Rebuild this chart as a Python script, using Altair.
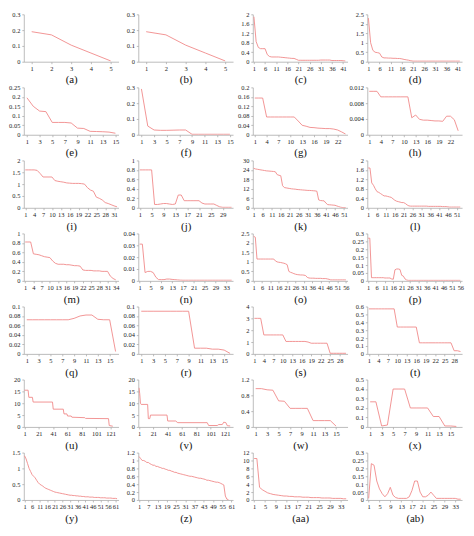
import altair as alt
import pandas as pd

FONT = "Liberation Serif"
LINE = "#f08888"

# ---------------- data ----------------
a_y = [0.19, 0.17, 0.105, 0.055, 0.005]
b_y = [0.19, 0.17, 0.105, 0.055, 0.005]
c_y = [1.9, 0.85, 0.6, 0.55, 0.55, 0.55, 0.3, 0.22, 0.2, 0.2, 0.2, 0.2, 0.19, 0.18, 0.17, 0.16, 0.15, 0.14, 0.14, 0.1,
       0.06, 0.06, 0.06, 0.06, 0.06, 0.06, 0.06, 0.06, 0.06, 0.06, 0.07, 0.07, 0.07, 0.07, 0.07, 0.05, 0.05, 0.05, 0.05,
       0.05, 0.04, 0.03]
d_y = [2.3, 1.0, 0.6, 0.5, 0.48, 0.45, 0.25, 0.2, 0.2, 0.19, 0.19, 0.18, 0.18, 0.17, 0.17, 0.15, 0.12, 0.1, 0.08, 0.05,
       0.03, 0.03, 0.03, 0.03, 0.03, 0.03, 0.03, 0.03, 0.03, 0.03, 0.03, 0.03, 0.03, 0.03, 0.03, 0.03, 0.03, 0.03, 0.03,
       0.03, 0.03, 0.03]
e_y = [0.195, 0.15, 0.125, 0.122, 0.065, 0.065, 0.065, 0.062, 0.035, 0.033, 0.018, 0.017, 0.016, 0.014, 0.008]
f_y = [0.29, 0.055, 0.03, 0.028, 0.028, 0.029, 0.03, 0.03, 0.003, 0.003, 0.003, 0.003, 0.003, 0.003, 0.003]
g_y = [0.155, 0.155, 0.155, 0.075, 0.075, 0.075, 0.075, 0.075, 0.075, 0.075, 0.075, 0.058, 0.04, 0.036, 0.031, 0.03,
       0.028, 0.027, 0.026, 0.026, 0.024, 0.02, 0.012, 0.003]
h_y = [0.011, 0.011, 0.011, 0.0096, 0.0096, 0.0096, 0.0096, 0.0096, 0.0096, 0.0096, 0.0096, 0.0043, 0.005, 0.0039,
       0.0037, 0.0037, 0.0036, 0.0035, 0.0035, 0.0034, 0.0047, 0.0047, 0.0038, 0.001]
i_y = [1.6, 1.6, 1.6, 1.6, 1.58, 1.45, 1.3, 1.3, 1.3, 1.3, 1.15, 1.12, 1.1, 1.08, 1.05, 1.04, 1.03, 1.03, 1.03, 1.02,
       1.0, 0.85, 0.75, 0.7, 0.45, 0.4, 0.33, 0.22, 0.18, 0.13, 0.08, 0.04]
j_y = [0.8, 0.8, 0.8, 0.8, 0.8, 0.07, 0.07, 0.08, 0.09, 0.09, 0.08, 0.07, 0.08, 0.27, 0.27, 0.15, 0.15, 0.15, 0.15,
       0.15, 0.15, 0.1, 0.08, 0.08, 0.08, 0.08, 0.05, 0.02, 0.01, 0.01, 0.01, 0.01]
k_y = [25, 24.6, 24.4, 24.2, 24, 23.8, 23.6, 23.4, 23.3, 23.2, 23.1, 23, 22.8, 21, 20.6, 20.3, 14, 12.8, 12.6, 12.4,
       12.2, 12, 11.9, 11.8, 11.6, 11.5, 11.4, 11.3, 11.2, 11.1, 11, 11, 10.9, 10.8, 10.7, 10.5, 5, 4.6, 4.5, 4.4, 3,
       2, 1.9, 1.8, 1.7, 1.6, 1.2, 0.8, 0.4, 0.2, 0.1, 0.1]
l_y = [1.68, 1.68, 1.05, 0.95, 0.8, 0.68, 0.65, 0.6, 0.55, 0.5, 0.5, 0.48, 0.46, 0.44, 0.38, 0.32, 0.28, 0.26, 0.24,
       0.22, 0.22, 0.18, 0.12, 0.08, 0.07, 0.07, 0.07, 0.07, 0.07, 0.07, 0.07, 0.07, 0.07, 0.07, 0.06, 0.06, 0.06, 0.06,
       0.06, 0.06, 0.06, 0.06, 0.05, 0.05, 0.05, 0.04, 0.03, 0.03, 0.03, 0.03, 0.03, 0.03, 0.03]
m_y = [0.82, 0.82, 0.82, 0.57, 0.56, 0.55, 0.53, 0.51, 0.5, 0.49, 0.42, 0.37, 0.35, 0.35, 0.35, 0.34, 0.34, 0.33, 0.32,
       0.32, 0.31, 0.23, 0.22, 0.22, 0.22, 0.21, 0.21, 0.21, 0.2, 0.2, 0.2, 0.1, 0.05, 0.02]
n_y = [0.031, 0.031, 0.007, 0.008, 0.008, 0.007, 0.003, 0.001, 0.001, 0.001, 0.0015, 0.0015, 0.0012, 0.001, 0.0008,
       0.0006, 0.0005, 0.0005, 0.0005, 0.0005, 0.0005, 0.0005, 0.0005, 0.0005, 0.0005, 0.0005, 0.0005, 0.0005, 0.0005,
       0.0005, 0.0005, 0.0005, 0.0005, 0.0005, 0.0005]
o_y = [2.35, 2.3, 1.15, 1.15, 1.15, 1.15, 1.15, 1.15, 1.15, 1.15, 1.15, 1.15, 1.15, 1.05, 1.0, 0.98, 0.97, 0.95, 0.93,
       0.9, 0.85, 0.5, 0.45, 0.42, 0.38, 0.35, 0.33, 0.32, 0.31, 0.31, 0.3, 0.28, 0.18, 0.15, 0.14, 0.14, 0.14, 0.13,
       0.13, 0.13, 0.13, 0.12, 0.12, 0.12, 0.1, 0.08, 0.05, 0.05, 0.05, 0.05, 0.05, 0.05, 0.05, 0.05, 0.05, 0.05]
p_y = [0.27, 0.27, 0.02, 0.02, 0.02, 0.02, 0.02, 0.02, 0.02, 0.02, 0.018, 0.018, 0.018, 0.018, 0.012, 0.01, 0.07,
       0.075, 0.075, 0.072, 0.035, 0.03, 0.012, 0.005, 0.003, 0.003, 0.003, 0.003, 0.003, 0.003, 0.003, 0.003, 0.003,
       0.003, 0.003, 0.003, 0.003, 0.003, 0.003, 0.003, 0.003, 0.003, 0.003, 0.003, 0.003, 0.003, 0.003, 0.003, 0.003,
       0.003, 0.003, 0.003, 0.003, 0.003, 0.003, 0.003]
q_y = [0.072, 0.072, 0.072, 0.072, 0.072, 0.072, 0.072, 0.072, 0.075, 0.08, 0.082, 0.082, 0.073, 0.072, 0.072, 0.005]
r_y = [0.09, 0.09, 0.09, 0.09, 0.09, 0.09, 0.09, 0.09, 0.09, 0.012, 0.012, 0.012, 0.01, 0.01, 0.008, 0.001]
s_y = [3, 3, 3, 1.6, 1.6, 1.6, 1.6, 1.6, 1.6, 1.6, 1.05, 1.05, 1.05, 1.05, 1.05, 1.05, 1.05, 1.0, 0.9, 0.9, 0.9, 0.9,
       0.9, 0.9, 0.05, 0.05, 0.05, 0.05, 0.05, 0.05]
t_y = [0.57, 0.57, 0.57, 0.57, 0.57, 0.57, 0.57, 0.57, 0.57, 0.34, 0.34, 0.34, 0.34, 0.34, 0.34, 0.34, 0.14, 0.14,
       0.14, 0.14, 0.14, 0.14, 0.14, 0.14, 0.14, 0.14, 0.14, 0.04, 0.04, 0.03]
u_x = [1, 6, 7, 12, 13, 40, 41, 55, 56, 60, 61, 66, 67, 85, 86, 118, 119, 124]
u_y = [15.5, 15.5, 12.5, 12.5, 10.5, 10.5, 7.5, 7.5, 5.5, 5.5, 4.6, 4.6, 4.1, 3.9, 3.6, 3.5, 0.6, 0.3]
v_x = [1, 2, 3, 4, 13, 14, 16, 17, 40, 41, 52, 55, 96, 98, 110, 112, 117, 119, 122, 124, 128]
v_y = [16.5, 14, 10, 9.5, 9.5, 3.5, 3.5, 5, 5, 2.5, 2.5, 1.8, 1.8, 0.6, 0.6, 1.0, 1.0, 2.0, 1.8, 0.5, 0.4]
w_y = [0.97, 0.97, 0.94, 0.93, 0.66, 0.65, 0.47, 0.47, 0.47, 0.47, 0.16, 0.16, 0.16, 0.16, 0.02]
x_y = [0.265, 0.265, 0.01, 0.02, 0.4, 0.4, 0.4, 0.2, 0.2, 0.2, 0.2, 0.11, 0.11, 0.01, 0.01, 0.005]
y_y = [1.4, 1.3, 1.15, 1.0, 0.9, 0.8, 0.75, 0.7, 0.62, 0.55, 0.5, 0.47, 0.44, 0.4, 0.37, 0.35, 0.33, 0.31, 0.29, 0.27,
       0.25, 0.24, 0.23, 0.22, 0.21, 0.2, 0.19, 0.18, 0.17, 0.16, 0.15, 0.15, 0.14, 0.14, 0.13, 0.13, 0.12, 0.12, 0.11,
       0.11, 0.1, 0.1, 0.1, 0.09, 0.09, 0.09, 0.08, 0.08, 0.08, 0.08, 0.07, 0.07, 0.07, 0.07, 0.06, 0.06, 0.06, 0.06,
       0.05, 0.05, 0.05, 0.04]
z_y = [1.1, 1.05, 1.0, 1.0, 0.98, 0.95, 0.95, 0.92, 0.9, 0.88, 0.88, 0.85, 0.85, 0.83, 0.82, 0.8, 0.8, 0.78, 0.77,
       0.75, 0.75, 0.73, 0.72, 0.7, 0.7, 0.68, 0.67, 0.66, 0.65, 0.64, 0.63, 0.62, 0.61, 0.6, 0.6, 0.59, 0.58, 0.57,
       0.56, 0.55, 0.55, 0.54, 0.53, 0.52, 0.5, 0.5, 0.49, 0.48, 0.47, 0.46, 0.45, 0.45, 0.44, 0.42, 0.4, 0.38, 0.1,
       0.02, 0.01]
aa_y = [10.5, 10.5, 3.2, 2.6, 2.2, 1.8, 1.6, 1.4, 1.3, 1.2, 1.1, 1.0, 1.0, 0.9, 0.9, 0.8, 0.8, 0.8, 0.7, 0.7, 0.7, 0.6,
        0.6, 0.6, 0.6, 0.5, 0.5, 0.5, 0.5, 0.4, 0.4, 0.4, 0.4, 0.3, 0.3]
ab_y = [0.01, 0.23, 0.22, 0.12, 0.07, 0.04, 0.02, 0.04, 0.08, 0.03, 0.015, 0.01, 0.01, 0.01, 0.01, 0.02, 0.06, 0.12,
        0.12, 0.05, 0.02, 0.02, 0.03, 0.05, 0.03, 0.01, 0.01, 0.01, 0.01, 0.01, 0.01, 0.01, 0.01, 0.005, 0.005]

# panel captions, x domain, x tick labels, y tick labels
captions = ["(a)", "(b)", "(c)", "(d)", "(e)", "(f)", "(g)", "(h)", "(i)", "(j)", "(k)", "(l)", "(m)", "(n)",
            "(o)", "(p)", "(q)", "(r)", "(s)", "(t)", "(u)", "(v)", "(w)", "(x)", "(y)", "(z)", "(aa)", "(ab)"]
series_y = [a_y, b_y, c_y, d_y, e_y, f_y, g_y, h_y, i_y, j_y, k_y, l_y, m_y, n_y,
            o_y, p_y, q_y, r_y, s_y, t_y, u_y, v_y, w_y, x_y, y_y, z_y, aa_y, ab_y]
series_x = {"(u)": u_x, "(v)": v_x}
x_domains = [[0.6, 5.4], [0.6, 5.4], [0.5, 43], [0.5, 43], [0.5, 15.5], [0.5, 15.5], [0.5, 24.5], [0.5, 25],
             [0.5, 32.5], [0.5, 32.5], [0.5, 53], [0.5, 54], [0.5, 35], [0.5, 35.5], [0.5, 57], [0.5, 57],
             [0.5, 16.5], [0.5, 16.5], [0.5, 30.5], [0.5, 30.5], [0, 132], [0, 132], [0.5, 17], [0.5, 17],
             [0.5, 63], [0.5, 62], [0.5, 35.5], [0.5, 35.5]]
x_ticks = [
    [1, 2, 3, 4, 5], [1, 2, 3, 4, 5],
    [1, 6, 11, 16, 21, 26, 31, 36, 41], [1, 6, 11, 16, 21, 26, 31, 36, 41],
    [1, 3, 5, 7, 9, 11, 13, 15], [1, 3, 5, 7, 9, 11, 13, 15],
    [1, 4, 7, 10, 13, 16, 19, 22], [1, 4, 7, 10, 13, 16, 19, 22],
    [1, 4, 7, 10, 13, 16, 19, 22, 25, 28, 31], [1, 5, 9, 13, 17, 21, 25, 29],
    [1, 6, 11, 16, 21, 26, 31, 36, 41, 46, 51], [1, 6, 11, 16, 21, 26, 31, 36, 41, 46, 51],
    [1, 4, 7, 10, 13, 16, 19, 22, 25, 28, 31, 34], [1, 5, 9, 13, 17, 21, 25, 29, 33],
    [1, 6, 11, 16, 21, 26, 31, 36, 41, 46, 51, 56], [1, 6, 11, 16, 21, 26, 31, 36, 41, 46, 51, 56],
    [1, 3, 5, 7, 9, 11, 13, 15], [1, 3, 5, 7, 9, 11, 13, 15],
    [1, 4, 7, 10, 13, 16, 19, 22, 25, 28], [1, 4, 7, 10, 13, 16, 19, 22, 25, 28],
    [1, 21, 41, 61, 81, 101, 121], [1, 21, 41, 61, 81, 101, 121],
    [1, 3, 5, 7, 9, 11, 13, 15], [1, 3, 5, 7, 9, 11, 13, 15],
    [1, 6, 11, 16, 21, 26, 31, 36, 41, 46, 51, 56, 61], [1, 7, 13, 19, 25, 31, 37, 43, 49, 55, 61],
    [1, 5, 9, 13, 17, 21, 25, 29, 33], [1, 5, 9, 13, 17, 21, 25, 29, 33],
]
y_ticks = [
    [0, 0.1, 0.2, 0.3], [0, 0.1, 0.2, 0.3],
    [0, 0.4, 0.8, 1.2, 1.6, 2], [0, 0.5, 1, 1.5, 2, 2.5],
    [0, 0.05, 0.1, 0.15, 0.2, 0.25], [0, 0.1, 0.2, 0.3],
    [0, 0.04, 0.08, 0.12, 0.16, 0.2], [0, 0.004, 0.008, 0.012],
    [0, 0.5, 1, 1.5, 2], [0, 0.2, 0.4, 0.6, 0.8, 1],
    [0, 6, 12, 18, 24, 30], [0, 0.4, 0.8, 1.2, 1.6, 2],
    [0, 0.2, 0.4, 0.6, 0.8, 1], [0, 0.01, 0.02, 0.03, 0.04],
    [0, 0.5, 1, 1.5, 2, 2.5], [0, 0.05, 0.1, 0.15, 0.2, 0.25, 0.3],
    [0, 0.02, 0.04, 0.06, 0.08, 0.1], [0, 0.02, 0.04, 0.06, 0.08, 0.1],
    [0, 1, 2, 3, 4], [0, 0.1, 0.2, 0.3, 0.4, 0.5, 0.6],
    [0, 5, 10, 15, 20], [0, 5, 10, 15, 20],
    [0, 0.4, 0.8, 1.2], [0, 0.1, 0.2, 0.3, 0.4, 0.5],
    [0, 0.5, 1, 1.5], [0, 0.2, 0.4, 0.6, 0.8, 1, 1.2],
    [0, 2, 4, 6, 8, 10, 12], [0, 0.05, 0.1, 0.15, 0.2, 0.25, 0.3],
]


def panel(i):
    cap = captions[i]
    ys = series_y[i]
    xs = series_x.get(cap, list(range(1, len(ys) + 1)))
    df = pd.DataFrame({"x": xs, "y": ys})
    return alt.Chart(df).mark_line(color=LINE, strokeWidth=0.9, clip=True).encode(
        x=alt.X("x:Q", scale=alt.Scale(domain=x_domains[i], nice=False, zero=False),
                axis=alt.Axis(values=x_ticks[i], format="d", title=cap, labelOverlap=False,
                              labelFlush=False)),
        y=alt.Y("y:Q", scale=alt.Scale(domain=[0, y_ticks[i][-1]], nice=False),
                axis=alt.Axis(values=y_ticks[i], format="~g", title=None, labelOverlap=False,
                              labelFlush=False)),
    ).properties(width=96, height=48)


charts = [panel(i) for i in range(len(captions))]

chart = alt.concat(*charts, columns=4, spacing={"row": 26, "column": 20}, bounds="flush").properties(
    padding={"left": 0, "top": 0, "right": 2, "bottom": 2}
).configure_view(stroke=None).configure_axis(
    grid=False,
    labelFont=FONT, labelFontSize=6.5, labelColor="#222", labelPadding=2,
    domainColor="#aaa", domainWidth=0.8, tickColor="#aaa", tickSize=2, tickWidth=0.8,
    titleFont=FONT, titleFontSize=11, titleFontWeight="normal", titleColor="#111", titlePadding=2,
)

chart.save("out.html", embed_options={"renderer": "svg", "actions": False})
